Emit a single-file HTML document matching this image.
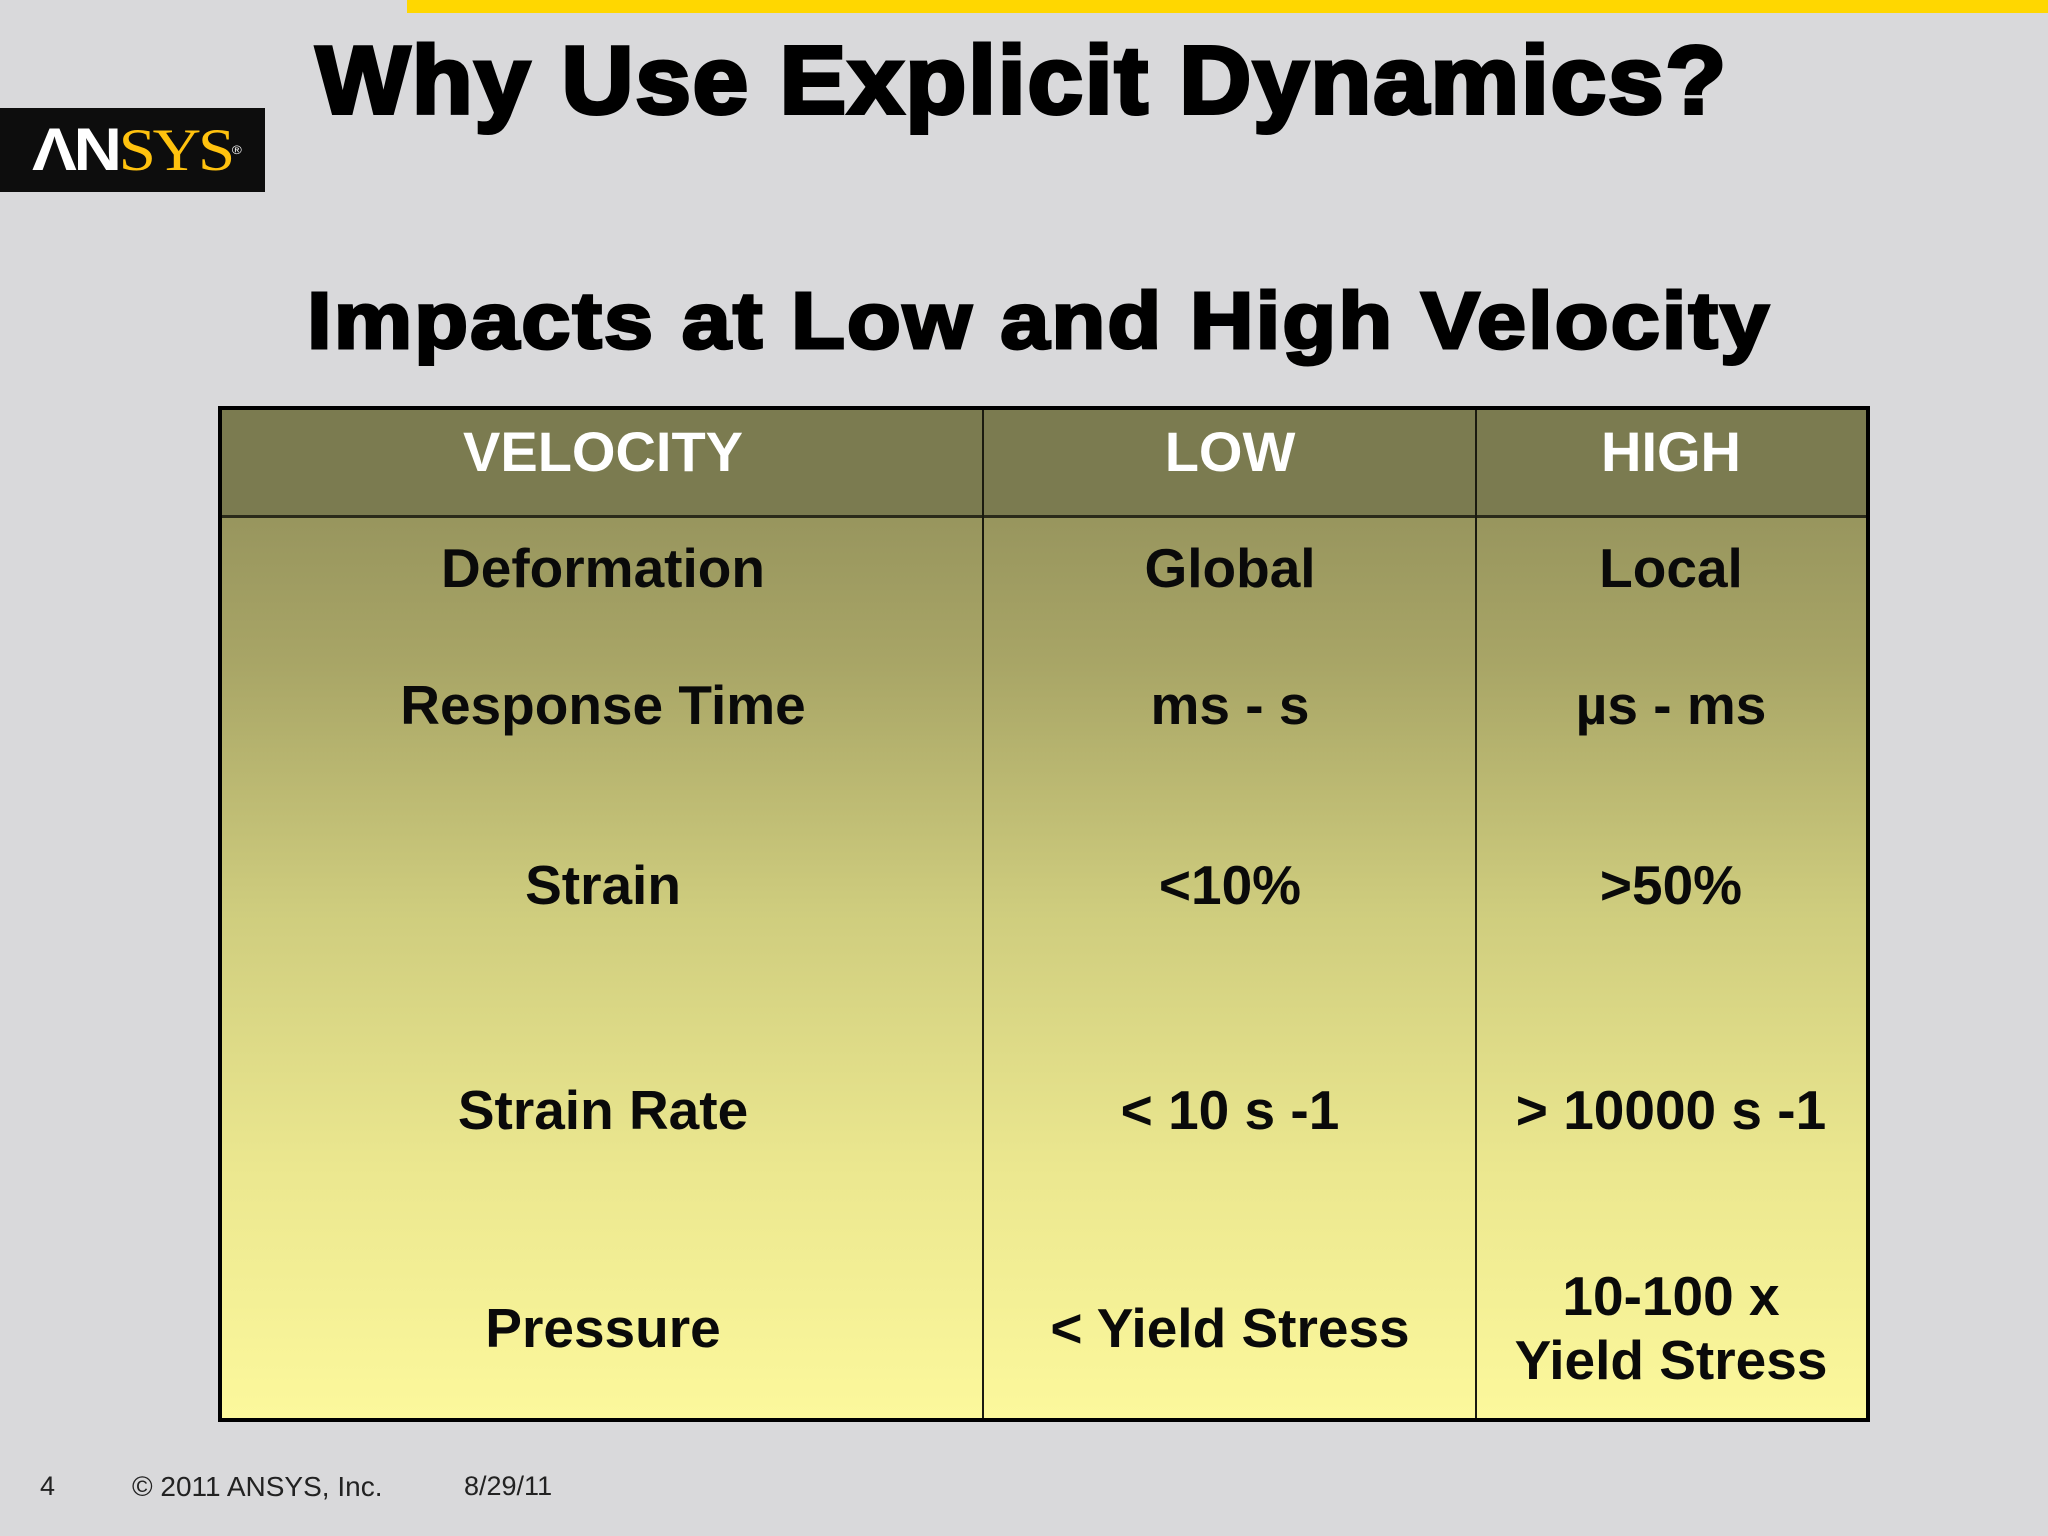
<!DOCTYPE html>
<html><head><meta charset="utf-8">
<style>
html,body{margin:0;padding:0}
body{width:2048px;height:1536px;background:#d9d9db;position:relative;overflow:hidden;font-family:"Liberation Sans",Arial,sans-serif}
.abs{position:absolute}
.cell{position:absolute;text-align:center;font-weight:bold;font-size:55px;color:#0a0a0a;line-height:64px;transform:translateY(-50%)}
.hdr{position:absolute;text-align:center;font-weight:bold;font-size:56px;color:#fff;top:420px;line-height:64px}
</style></head>
<body>
<div class="abs" style="left:407px;top:0;width:1641px;height:13px;background:#ffd700"></div>
<div class="abs" style="left:316px;top:26px;font-size:96px;font-weight:bold;color:#000;-webkit-text-stroke:4px #000;letter-spacing:2px;white-space:nowrap;line-height:110px;transform:scaleX(1.035);transform-origin:left center">Why Use Explicit Dynamics?</div>
<div class="abs" style="left:0;top:108px;width:265px;height:84px;background:#0d0d0d">
 <div class="abs" style="left:32px;top:12px;font-size:60px;line-height:60px;white-space:nowrap;letter-spacing:-3px;transform:scaleX(1.12);transform-origin:left center"><span style="color:#fff;font-weight:bold">ΛN</span><span style="color:#ffc20e;font-family:'Liberation Serif',serif">SYS</span><span style="color:#fff;font-size:12px;vertical-align:top">®</span></div>
</div>
<div class="abs" style="left:0;width:2078px;text-align:center;top:276px;font-size:80px;font-weight:bold;color:#000;-webkit-text-stroke:3px #000;letter-spacing:2px;line-height:90px;white-space:nowrap;transform:scaleX(1.1);transform-origin:1037px center">Impacts at Low and High Velocity</div>

<div class="abs" style="left:218px;top:406px;width:1644px;height:1008px;border:4px solid #000;background:linear-gradient(to bottom,#8c8a58 0%,#a8a566 25%,#cfcd7e 50%,#ebe78f 75%,#fcf89c 100%)">
 <div class="abs" style="left:0;top:0;width:100%;height:105px;background:#7b7b50;border-bottom:3px solid #2a2a1a"></div>
 <div class="abs" style="left:760px;top:0;width:2px;height:100%;background:#1a1a10"></div>
 <div class="abs" style="left:1253px;top:0;width:2px;height:100%;background:#1a1a10"></div>
</div>

<div class="hdr" style="left:222px;width:762px">VELOCITY</div>
<div class="hdr" style="left:984px;width:492px">LOW</div>
<div class="hdr" style="left:1476px;width:390px">HIGH</div>

<div class="cell" style="left:222px;width:762px;top:568px">Deformation</div>
<div class="cell" style="left:984px;width:492px;top:568px">Global</div>
<div class="cell" style="left:1476px;width:390px;top:568px">Local</div>

<div class="cell" style="left:222px;width:762px;top:705px">Response Time</div>
<div class="cell" style="left:984px;width:492px;top:705px">ms - s</div>
<div class="cell" style="left:1476px;width:390px;top:705px">µs - ms</div>

<div class="cell" style="left:222px;width:762px;top:885px">Strain</div>
<div class="cell" style="left:984px;width:492px;top:885px">&lt;10%</div>
<div class="cell" style="left:1476px;width:390px;top:885px">&gt;50%</div>

<div class="cell" style="left:222px;width:762px;top:1110px">Strain Rate</div>
<div class="cell" style="left:984px;width:492px;top:1110px">&lt; 10 s -1</div>
<div class="cell" style="left:1476px;width:390px;top:1110px">&gt; 10000 s -1</div>

<div class="cell" style="left:222px;width:762px;top:1328px">Pressure</div>
<div class="cell" style="left:984px;width:492px;top:1328px">&lt; Yield Stress</div>
<div class="cell" style="left:1476px;width:390px;top:1328px">10-100 x<br>Yield Stress</div>

<div class="abs" style="left:40px;top:1471px;font-size:27px;color:#222">4</div>
<div class="abs" style="left:132px;top:1471px;font-size:28px;color:#222;white-space:nowrap">© 2011 ANSYS, Inc.</div>
<div class="abs" style="left:464px;top:1471px;font-size:27px;color:#222">8/29/11</div>
</body></html>
